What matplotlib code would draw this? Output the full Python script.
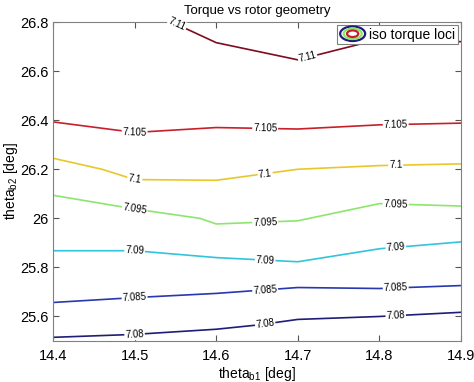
import numpy as np
import matplotlib.pyplot as plt
from matplotlib.patches import Ellipse
from matplotlib.legend_handler import HandlerBase

plt.rcParams['font.family'] = ['Liberation Sans', 'DejaVu Sans']
plt.rcParams['mathtext.default'] = 'regular'

# iso torque lines (theta_b1 -> theta_b2)
levels = [7.08, 7.085, 7.09, 7.095, 7.1, 7.105, 7.11]

x_708 = [14.4, 14.5, 14.6, 14.65, 14.7, 14.8, 14.9]
y_708 = [25.515, 25.527, 25.548, 25.565, 25.588, 25.6, 25.617]
x_7085 = [14.4, 14.5, 14.6, 14.7, 14.8, 14.9]
y_7085 = [25.657, 25.677, 25.694, 25.718, 25.714, 25.726]
x_709 = [14.4, 14.5, 14.6, 14.7, 14.8, 14.9]
y_709 = [25.868, 25.868, 25.84, 25.823, 25.876, 25.904]
x_7095 = [14.4, 14.5, 14.58, 14.6, 14.7, 14.8, 14.9]
y_7095 = [26.094, 26.038, 26.0, 25.977, 25.99, 26.06, 26.05]
x_71 = [14.4, 14.46, 14.5, 14.6, 14.7, 14.8, 14.9]
y_71 = [26.245, 26.2, 26.158, 26.155, 26.2, 26.215, 26.222]
x_7105 = [14.4, 14.5, 14.6, 14.7, 14.8, 14.9]
y_7105 = [26.393, 26.35, 26.37, 26.364, 26.381, 26.388]
x_711 = [14.5, 14.6, 14.7, 14.8, 14.9]
y_711 = [26.87, 26.716, 26.646, 26.73, 26.72]

lines_x = [x_708, x_7085, x_709, x_7095, x_71, x_7105, x_711]
lines_y = [y_708, y_7085, y_709, y_7095, y_71, y_7105, y_711]
label_x = [[14.5, 14.66, 14.82]] * 6 + [[14.552, 14.712]]

colors = ['#1e1e78', '#2838b0', '#32c4dc', '#8ce66e', '#e8c828',
          '#c8202a', '#820a1e']


class RingsHandler(HandlerBase):
    def create_artists(self, legend, orig_handle, xdescent, ydescent,
                       width, height, fontsize, trans):
        cx = width / 2 - xdescent
        cy = height / 2 - ydescent
        out = []
        for s, c in zip([1.0, 0.72, 0.45], [colors[0], colors[3], colors[5]]):
            e = Ellipse((cx, cy), width * s, height * 1.5 * s, fc='none',
                        ec=c, lw=1.6, transform=trans)
            out.append(e)
        return out


fig = plt.figure(figsize=(4.74, 3.82), dpi=100)
ax = fig.add_axes([0.1118, 0.1073, 0.8608, 0.835])
ax.set_xlim(14.4, 14.9)
ax.set_ylim(25.5, 26.8)

for i, lev in enumerate(levels):
    ax.plot(lines_x[i], lines_y[i], color=colors[i], lw=1.2, zorder=2)

fig.canvas.draw()
for i, lev in enumerate(levels):
    xs = np.array(lines_x[i])
    ys = np.array(lines_y[i])
    for lx in label_x[i]:
        ly = np.interp(lx, xs, ys)
        p1 = ax.transData.transform((lx - 0.01, np.interp(lx - 0.01, xs, ys)))
        p2 = ax.transData.transform((lx + 0.01, np.interp(lx + 0.01, xs, ys)))
        ang = np.degrees(np.arctan2(p2[1] - p1[1], p2[0] - p1[0]))
        ax.text(lx, ly, f'{lev:g}', fontsize=7, rotation=ang,
                rotation_mode='anchor', ha='center', va='center',
                bbox=dict(fc='white', ec='none', pad=0.6), zorder=3)

ax.set_xticks([14.4, 14.5, 14.6, 14.7, 14.8, 14.9])
ax.set_yticks([25.6, 25.8, 26.0, 26.2, 26.4, 26.6, 26.8])
ax.set_yticklabels(['25.6', '25.8', '26', '26.2', '26.4', '26.6', '26.8'])
ax.tick_params(direction='in', top=True, right=True, length=4,
               labelsize=10.5, color='#555555')
ax.tick_params(axis='x', pad=6)
for sp in ax.spines.values():
    sp.set_color('#808080')

ax.set_xlabel('theta$_{b1}$ [deg]', fontsize=10, labelpad=1)
ax.set_ylabel('theta$_{b2}$ [deg]', fontsize=10)
ax.yaxis.set_label_coords(-0.082, 0.5)
ax.set_title('Torque vs rotor geometry', fontsize=9.5, pad=6)

h = plt.Line2D([], [])
leg = ax.legend([h], ['iso torque loci'], loc='upper right',
                handler_map={plt.Line2D: RingsHandler()}, fontsize=10,
                fancybox=False, framealpha=1, edgecolor='#808080',
                borderpad=0.2, handlelength=1.8, handletextpad=0.3,
                borderaxespad=0.2)
leg.set_zorder(5)
leg.get_frame().set_linewidth(0.8)

fig.savefig('out.png', dpi=100)
